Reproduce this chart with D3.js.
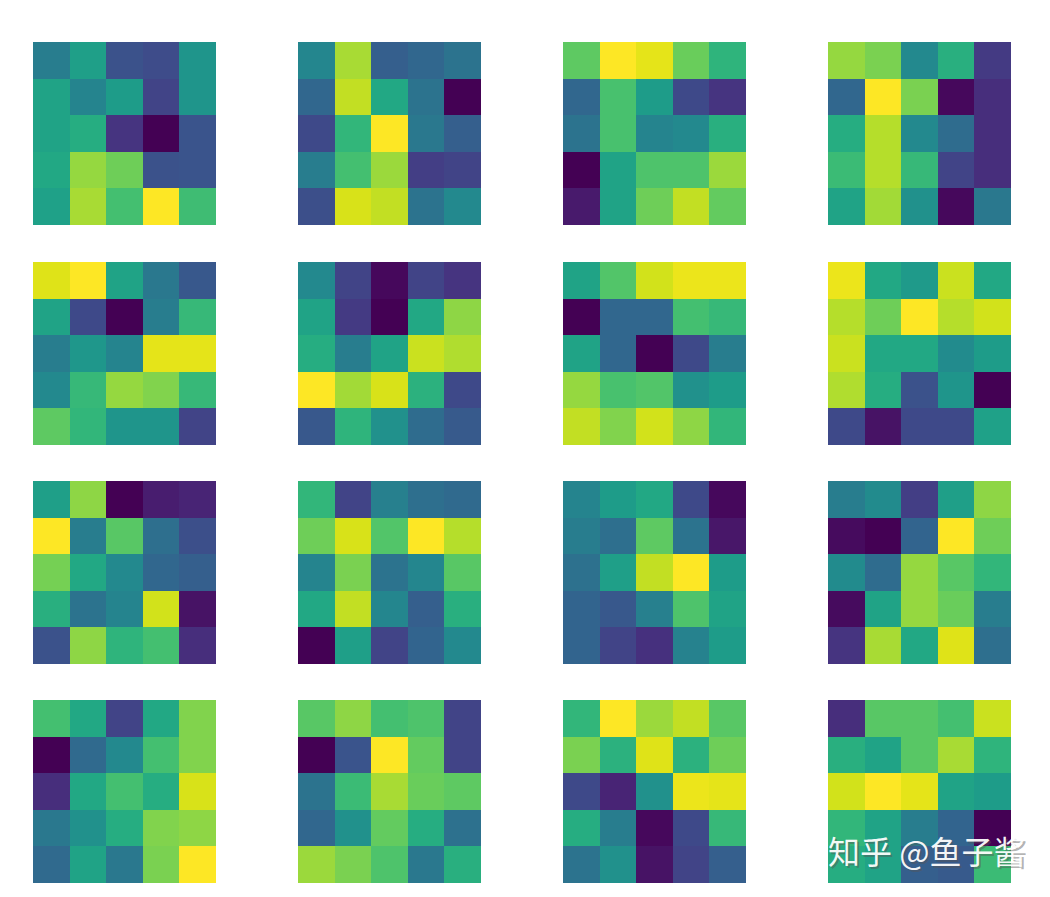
<!DOCTYPE html>
<html>
<head>
<meta charset="utf-8">
<script src="https://cdn.jsdelivr.net/npm/d3@7"></script>
<style>
  html, body { margin: 0; padding: 0; background: #fff; }
  svg { display: block; }
</style>
</head>
<body>
<svg id="chart" width="1050" height="897"></svg>
<script>
// values, one 5x5 matrix per panel (0 = darkest, 1 = brightest)
const panel1 = [[.42,.56,.25,.23,.52],[.58,.45,.55,.2,.52],[.58,.62,.15,0,.26],[.6,.84,.78,.25,.26],[.57,.87,.7,1,.69]];
const panel2 = [[.46,.87,.3,.33,.38],[.33,.91,.6,.38,0],[.22,.66,1,.4,.3],[.42,.7,.85,.18,.2],[.24,.94,.91,.38,.47]];
const panel3 = [[.75,1,.96,.77,.65],[.33,.71,.55,.22,.15],[.38,.71,.45,.47,.63],[0,.58,.72,.72,.85],[.07,.58,.78,.91,.76]];
const panel4 = [[.84,.8,.47,.63,.17],[.33,1,.8,.02,.13],[.62,.89,.47,.35,.13],[.68,.89,.67,.2,.13],[.58,.86,.5,.02,.4]];
const panel5 = [[.95,1,.58,.4,.27],[.58,.22,0,.42,.67],[.42,.53,.45,.96,.96],[.47,.67,.84,.81,.67],[.75,.66,.52,.52,.2]];
const panel6 = [[.47,.2,.02,.2,.15],[.58,.17,0,.6,.83],[.62,.42,.58,.92,.88],[1,.86,.94,.64,.22],[.27,.65,.5,.35,.28]];
const panel7 = [[.58,.73,.93,.97,.97],[0,.33,.33,.7,.67],[.58,.33,0,.22,.42],[.84,.71,.73,.5,.55],[.91,.81,.93,.83,.66]];
const panel8 = [[.97,.6,.54,.92,.6],[.89,.78,1,.89,.93],[.92,.6,.6,.48,.55],[.88,.62,.25,.52,0],[.22,.05,.22,.22,.57]];
const panel9 = [[.56,.83,0,.08,.1],[1,.42,.74,.36,.24],[.79,.6,.47,.33,.3],[.63,.38,.45,.93,.05],[.25,.83,.65,.7,.13]];
const panel10 = [[.66,.2,.43,.36,.34],[.78,.94,.73,1,.89],[.45,.8,.38,.46,.74],[.6,.91,.46,.3,.63],[0,.56,.2,.32,.47]];
const panel11 = [[.45,.55,.6,.22,.02],[.42,.36,.75,.38,.06],[.37,.56,.91,1,.55],[.32,.27,.43,.72,.58],[.32,.2,.14,.44,.55]];
const panel12 = [[.42,.48,.18,.56,.83],[.03,0,.32,1,.78],[.48,.35,.84,.74,.66],[.03,.58,.84,.77,.42],[.15,.87,.6,.95,.36]];
const panel13 = [[.7,.6,.2,.6,.81],[0,.34,.47,.7,.81],[.13,.6,.7,.62,.94],[.4,.5,.62,.81,.83],[.34,.58,.4,.8,1]];
const panel14 = [[.74,.83,.7,.72,.2],[0,.26,1,.76,.2],[.38,.68,.87,.77,.75],[.33,.5,.76,.62,.37],[.85,.8,.72,.4,.63]];
const panel15 = [[.66,1,.85,.91,.74],[.8,.64,.95,.64,.78],[.22,.1,.5,.97,.96],[.62,.42,.02,.22,.67],[.38,.5,.05,.2,.3]];
const panel16 = [[.13,.74,.74,.7,.92],[.63,.58,.74,.87,.65],[.93,1,.96,.58,.55],[.66,.58,.42,.32,0],[.62,.58,.3,.28,.68]];
const panels = [panel1, panel2, panel3, panel4, panel5, panel6, panel7, panel8,
  panel9, panel10, panel11, panel12, panel13, panel14, panel15, panel16];
const watermark = "知乎 @鱼子酱";

const cellIdx = d3.range(5);
const panelSize = 183;
const colStart = d3.scaleLinear().domain([0, 1, 2, 3]).range([33, 298, 563, 828]);
const rowStart = d3.scaleLinear().domain([0, 1, 2, 3]).range([42, 262, 481, 700]);
const band = d3.scaleBand().domain(cellIdx).range([0, panelSize]);
const color = d3.scaleSequential(d3.interpolateViridis).domain([0, 1]);

const svg = d3.select("#chart");

panels.forEach((m, i) => {
  const g = svg.append("g")
    .attr("transform", `translate(${colStart(i % 4)},${rowStart(Math.floor(i / 4))})`);
  m.forEach((row, r) => {
    g.selectAll(null)
      .data(row)
      .join("rect")
      .attr("x", (d, c) => band(c))
      .attr("y", band(r))
      .attr("width", band.bandwidth() + 0.3)
      .attr("height", band.bandwidth() + 0.3)
      .attr("fill", (d) => color(d))
      .attr("shape-rendering", "crispEdges");
  });
});

// watermark: soft grey shadow under white text
function addMark(dx, dy, fill, opacity) {
  svg.append("text")
    .attr("x", 828 + dx)
    .attr("y", 864 + dy)
    .attr("font-family", "'Noto Sans CJK SC', sans-serif")
    .attr("font-size", 32)
    .attr("fill", fill)
    .attr("fill-opacity", opacity)
    .text(watermark);
}
addMark(2, 2, "#555", 0.45);
addMark(0, 0, "#fff", 0.95);
</script>
</body>
</html>
